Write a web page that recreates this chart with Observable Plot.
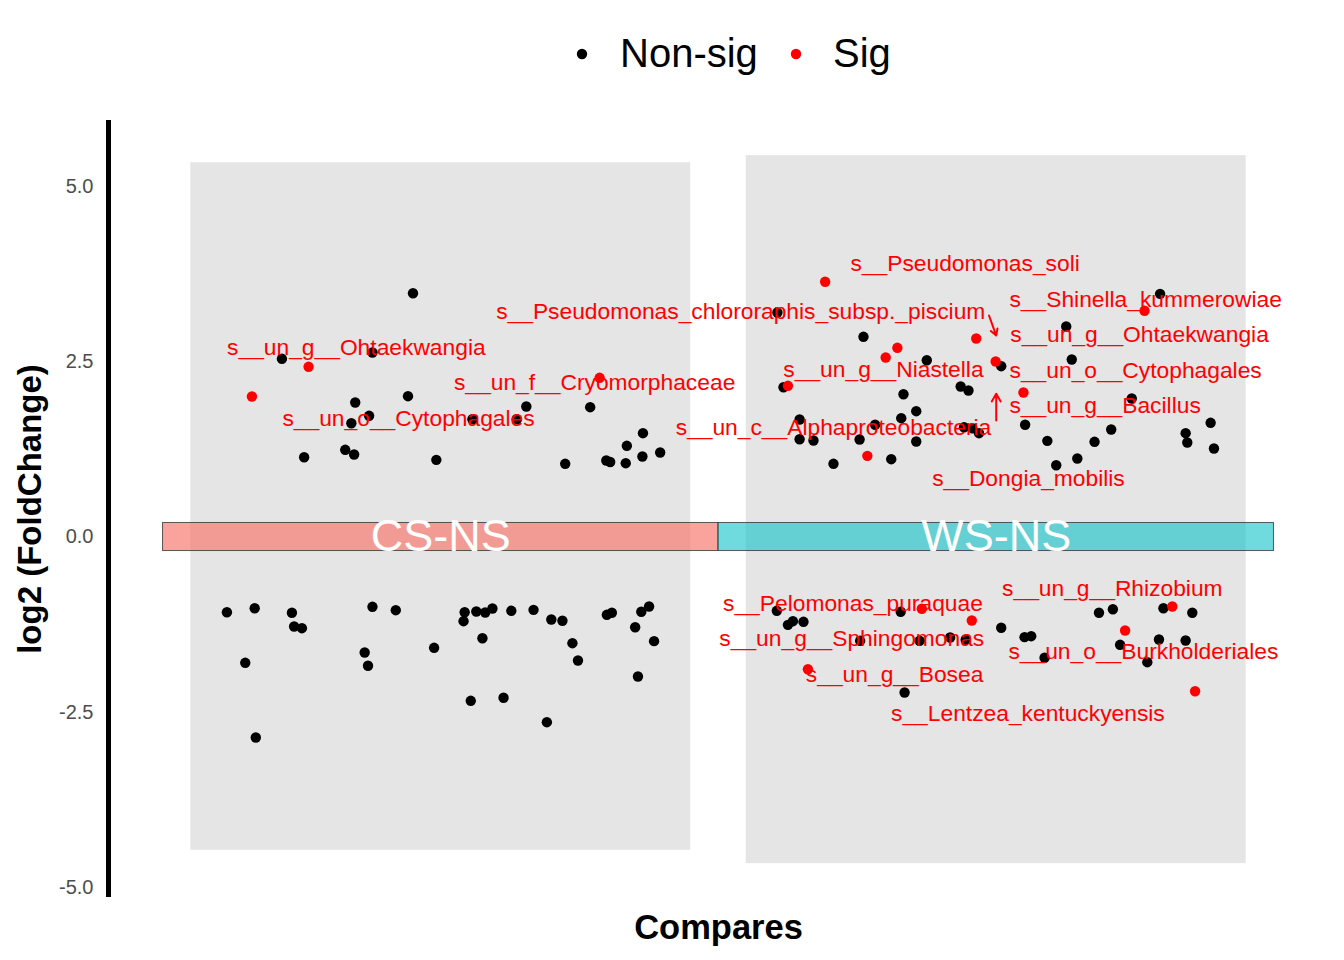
<!DOCTYPE html>
<html><head><meta charset="utf-8">
<script src="https://cdn.jsdelivr.net/npm/d3@7"></script>
<script src="https://cdn.jsdelivr.net/npm/@observablehq/plot@0.6"></script>
<style>
body{margin:0;background:#fff;font-family:"Liberation Sans",Arial,sans-serif;}
svg{display:block}
</style></head><body>
<svg id="legend" width="1344" height="100"></svg>
<div id="chart"></div>
<script>
// ---- data ----
const compares = ["CS-NS", "WS-NS"];
const compareX = [1, 2];
const compareColors = ["#F8766D", "#00BFC4"];
const panelX1 = [0.55, 1.55], panelX2 = [1.45, 2.45];
const panelY1 = [-4.47, -4.66], panelY2 = [5.34, 5.44];
const yTicks = [-5, -2.5, 0, 2.5, 5];
const legendLabels = ["Non-sig", "Sig"];
const legendColors = ["#000000", "#FF0000"];

// CS-NS points (x jittered), sig: 1 = Sig
const csX = [0.950,0.714,0.877,0.762,0.660,0.846,0.941,0.871,0.839,0.754,0.828,0.844,0.992,1.057,1.137,1.154,1.269,1.286,1.224,1.298,1.305,1.333,1.363,1.335,1.364,1.395,
  0.615,0.665,0.648,0.667,0.732,0.736,0.750,0.877,0.919,0.863,0.869,0.988,1.043,1.041,1.064,1.080,1.093,1.075,1.054,1.113,1.127,1.167,1.199,1.219,1.191,1.237,1.247,1.299,1.308,1.361,1.375,1.350,1.384,1.355];
const csY = [3.478,2.542,2.632,2.428,2.004,1.919,2.009,1.729,1.623,1.138,1.244,1.177,1.101,1.680,1.680,1.862,1.852,2.271,1.044,1.091,1.070,1.053,1.148,1.301,1.481,1.205,
  -1.073,-1.016,-1.795,-2.860,-1.081,-1.277,-1.301,-0.996,-1.044,-1.648,-1.837,-1.581,-1.073,-1.201,-1.063,-1.077,-1.020,-1.444,-2.337,-2.294,-1.053,-1.039,-1.177,-1.195,-2.642,-1.515,-1.762,-1.110,-1.081,-1.067,-0.991,-1.287,-1.486,-1.990];
const csSig = [0,0,0,1,1,0,0,0,0,0,0,0,0,0,0,0,0,1,0,0,0,0,0,0,0,0,
  0,0,0,0,0,0,0,0,0,0,0,0,0,0,0,0,0,0,0,0,0,0,0,0,0,0,0,0,0,0,0,0,0,0];

// WS-NS points
const wsX = [1.692,1.606,1.761,1.964,1.822,1.801,1.875,1.999,2.009,1.617,1.625,1.936,1.950,1.833,1.856,1.829,1.646,1.646,1.671,1.754,1.782,1.856,1.768,1.811,1.707,1.942,1.957,1.969,
  2.295,2.267,2.126,2.136,2.049,2.244,2.052,2.092,2.108,2.146,2.177,2.207,2.341,2.344,2.386,2.392,
  1.605,1.625,1.634,1.653,1.828,1.866,1.956,1.755,1.862,1.917,1.945,1.661,1.835,2.009,2.185,2.210,2.301,2.317,2.353,2.051,2.063,2.232,2.223,2.293,2.341,2.087,2.272,2.358];
const wsY = [3.641,3.203,2.856,2.832,2.699,2.561,2.522,2.504,2.437,2.137,2.157,2.147,2.090,2.037,1.795,1.695,1.676,1.395,1.377,1.391,1.601,1.362,1.158,1.110,1.044,1.566,1.552,1.481,
  3.469,3.227,3.003,2.532,2.061,1.976,1.601,1.372,1.024,1.120,1.358,1.534,1.481,1.348,1.629,1.262,
  -1.053,-1.253,-1.201,-1.210,-1.067,-1.024,-1.191,-1.481,-1.481,-1.434,-1.466,-1.886,-2.218,-1.295,-1.081,-1.030,-1.016,-0.991,-1.081,-1.429,-1.415,-1.334,-1.538,-1.462,-1.476,-1.723,-1.786,-2.200];
const wsSig = [1,0,0,1,1,1,0,1,0,0,1,0,0,0,0,0,0,0,0,0,0,0,1,0,0,0,0,0,
  0,1,0,0,1,0,0,0,0,0,0,0,0,0,0,0,
  0,0,0,0,0,1,1,0,0,0,0,1,0,0,0,0,0,1,0,0,0,1,0,0,0,0,0,1];

// repelled labels (label centre positions)
const labelText = ["s__Pseudomonas_soli","s__Pseudomonas_chlororaphis_subsp._piscium","s__Shinella_kummerowiae","s__un_g__Ohtaekwangia","s__un_g__Niastella","s__un_o__Cytophagales","s__un_g__Bacillus","s__un_c__Alphaproteobacteria","s__Dongia_mobilis",
  "s__un_g__Ohtaekwangia","s__un_f__Cryomorphaceae","s__un_o__Cytophagales",
  "s__Pelomonas_puraquae","s__un_g__Sphingomonas","s__un_g__Bosea","s__Lentzea_kentuckyensis","s__un_g__Rhizobium","s__un_o__Burkholderiales"];
const labelX = [1.944,1.540,2.269,2.258,1.797,2.251,2.196,1.707,2.058, 0.848,1.277,0.942, 1.742,1.740,1.817,2.057,2.209,2.265];
const labelY = [3.902,3.217,3.388,2.889,2.389,2.375,1.876,1.562,0.835, 2.703,2.204,1.690, -0.949,-1.448,-1.961,-2.518,-0.735,-1.633];

// label segments with arrow heads
const arrowX1 = [1.987, 2.000], arrowY1 = [3.160, 1.662];
const arrowX2 = [2.000, 2.000], arrowY2 = [2.874, 2.043];

// ---- build tables ----
const points = [
  ...csX.map((x, i) => ({x, y: csY[i], sig: csSig[i]})),
  ...wsX.map((x, i) => ({x, y: wsY[i], sig: wsSig[i]}))
];
const panels = panelX1.map((x1, i) => ({x1, x2: panelX2[i], y1: panelY1[i], y2: panelY2[i]}));
const bars = compares.map((c, i) => ({c, x1: compareX[i] - 0.5, x2: compareX[i] + 0.5, fill: compareColors[i], x: compareX[i]}));
const labels = labelText.map((t, i) => ({t, x: labelX[i], y: labelY[i]}));
const arrows = arrowX1.map((x1, i) => ({x1, y1: arrowY1[i], x2: arrowX2[i], y2: arrowY2[i]}));

// ---- legend ----
const lg = d3.select("#legend");
const legendPos = [[582, 620], [796, 833]];
legendLabels.forEach((l, i) => {
  lg.append("circle").attr("cx", legendPos[i][0]).attr("cy", 54).attr("r", 5.2).attr("fill", legendColors[i]);
  lg.append("text").attr("x", legendPos[i][1]).attr("y", 67).attr("font-size", 40)
    .attr("font-family", "Liberation Sans, Arial, sans-serif").attr("fill", "black").text(l);
});

// ---- plot ----
const chart = Plot.plot({
  width: 1344, height: 860,
  marginTop: 20, marginBottom: 63, marginLeft: 107, marginRight: 15,
  x: {domain: [0.4, 2.6], axis: null},
  y: {domain: [-5.143, 5.942]},
  style: {fontFamily: "Liberation Sans, Arial, sans-serif", background: "white"},
  marks: [
    Plot.rect(panels, {x1: "x1", x2: "x2", y1: "y1", y2: "y2", fill: "#E5E5E5"}),
    Plot.axisY({ticks: yTicks, tickFormat: d => d.toFixed(1), tickSize: 0, tickPadding: 14, fontSize: 20, color: "#4D4D4D", label: null}),
    Plot.ruleX([0.4], {y1: -5.143, y2: 5.942, stroke: "black", strokeWidth: 5, dx: 1}),
    Plot.dot(points.filter(d => !d.sig), {x: "x", y: "y", r: 5.2, fill: "#000000"}),
    Plot.dot(points.filter(d => d.sig), {x: "x", y: "y", r: 5.2, fill: "#FF0000"}),
    Plot.rect(bars.slice(0, 1), {x1: "x1", x2: "x2", y1: -0.2, y2: 0.2, fill: compareColors[0], fillOpacity: 0.68, stroke: "#333", strokeOpacity: 0.8, strokeWidth: 1}),
    Plot.rect(bars.slice(1), {x1: "x1", x2: "x2", y1: -0.2, y2: 0.2, fill: compareColors[1], fillOpacity: 0.56, stroke: "#333", strokeOpacity: 0.8, strokeWidth: 1}),
    Plot.text(bars, {x: "x", y: 0, text: "c", fill: "white", fontSize: 45}),
    Plot.arrow(arrows, {x1: "x1", y1: "y1", x2: "x2", y2: "y2", stroke: "#FF0000", strokeWidth: 2, headLength: 7}),
    Plot.text(labels, {x: "x", y: "y", text: "t", fill: "#FF0000", fontSize: 22.8}),
    Plot.text(["Compares"], {text: d => d, frameAnchor: "bottom", dy: 41, fontSize: 34.5, fontWeight: "bold", fill: "black"}),
    Plot.text(["log2 (FoldChange)"], {text: d => d, frameAnchor: "left", textAnchor: "middle", dx: -77, rotate: -90, fontSize: 33, fontWeight: "bold", fill: "black"})
  ]
});
document.getElementById("chart").appendChild(chart);
</script></body></html>
